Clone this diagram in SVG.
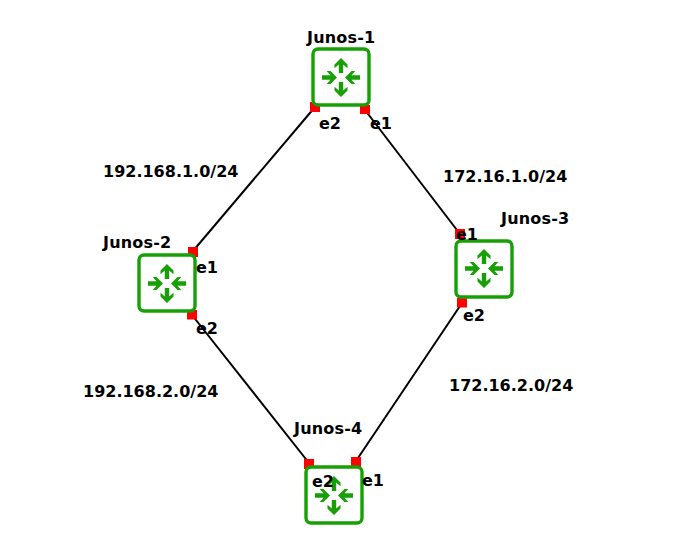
<svg xmlns="http://www.w3.org/2000/svg" width="677" height="556" viewBox="0 0 677 556">
<style>
.lbl{font-family:"DejaVu Sans",Verdana,sans-serif;font-weight:700;font-size:16px;fill:#000}
.name{letter-spacing:.2px}
.box{fill:#fff;stroke:#16a005;stroke-width:3.400}
.port{fill:#f00}
.link{stroke:#000;stroke-width:2;fill:none}
.ar{fill:#16a005}
</style>
<defs>
<path id="a" d="M-7.500 -2.200H1L-2.800 -6.500H1L7.500 0L1 6.500H-2.800L1 2.200H-7.500Z"/>
<g id="icon" class="ar">
<use href="#a" transform="translate(-11.500 -0.500)"/>
<use href="#a" transform="translate(11.500 -0.500) rotate(180)"/>
<use href="#a" transform="translate(0 -12.500) rotate(-90)"/>
<use href="#a" transform="translate(0 11.500) rotate(90)"/>
</g>
</defs>
<rect width="677" height="556" fill="#fff"/>
<g id="connectors">
<line class="link" x1="315" y1="107" x2="193" y2="251"/>
<line class="link" x1="365" y1="110" x2="460" y2="234"/>
<line class="link" x1="192" y1="315" x2="309" y2="463"/>
<line class="link" x1="462" y1="303" x2="356" y2="461"/>
</g>
<g id="junos-1">
<rect class="port" x="310" y="102" width="10" height="10"/>
<rect class="port" x="360" y="105" width="10" height="9"/>
<rect class="box" x="313" y="49" width="56" height="56" rx="5"/>
<use href="#icon" transform="translate(341 78)"/>
<text class="lbl name" x="307" y="43">Junos-1</text>
</g>
<g id="junos-2">
<rect class="port" x="188" y="247" width="10" height="10"/>
<rect class="port" x="187" y="310" width="10" height="9.500"/>
<rect class="box" x="139" y="255" width="56" height="56" rx="5"/>
<use href="#icon" transform="translate(167 284)"/>
<text class="lbl name" x="103" y="248">Junos-2</text>
</g>
<g id="junos-3">
<rect class="port" x="455" y="229" width="10" height="10"/>
<rect class="port" x="457" y="298" width="10" height="9.500"/>
<rect class="box" x="456" y="241" width="56" height="56" rx="5"/>
<use href="#icon" transform="translate(484 269)"/>
<text class="lbl name" x="501" y="224">Junos-3</text>
</g>
<g id="junos-4">
<rect class="port" x="304" y="459" width="10" height="10"/>
<rect class="port" x="351" y="457" width="10" height="10"/>
<rect class="box" x="306" y="467" width="56" height="56" rx="5"/>
<use href="#icon" transform="translate(334 496)"/>
<text class="lbl name" x="294" y="434">Junos-4</text>
</g>
<g id="labels">
<text class="lbl" x="319" y="129">e2</text>
<text class="lbl" x="370" y="129">e1</text>
<text class="lbl" x="196" y="273">e1</text>
<text class="lbl" x="196" y="334">e2</text>
<text class="lbl" x="456" y="240">e1</text>
<text class="lbl" x="463" y="321">e2</text>
<text class="lbl" x="312" y="487">e2</text>
<text class="lbl" x="362" y="486">e1</text>
<text class="lbl" x="103" y="177">192.168.1.0/24</text>
<text class="lbl" x="443" y="182">172.16.1.0/24</text>
<text class="lbl" x="83" y="397">192.168.2.0/24</text>
<text class="lbl" x="449" y="391">172.16.2.0/24</text>
</g>
</svg>
